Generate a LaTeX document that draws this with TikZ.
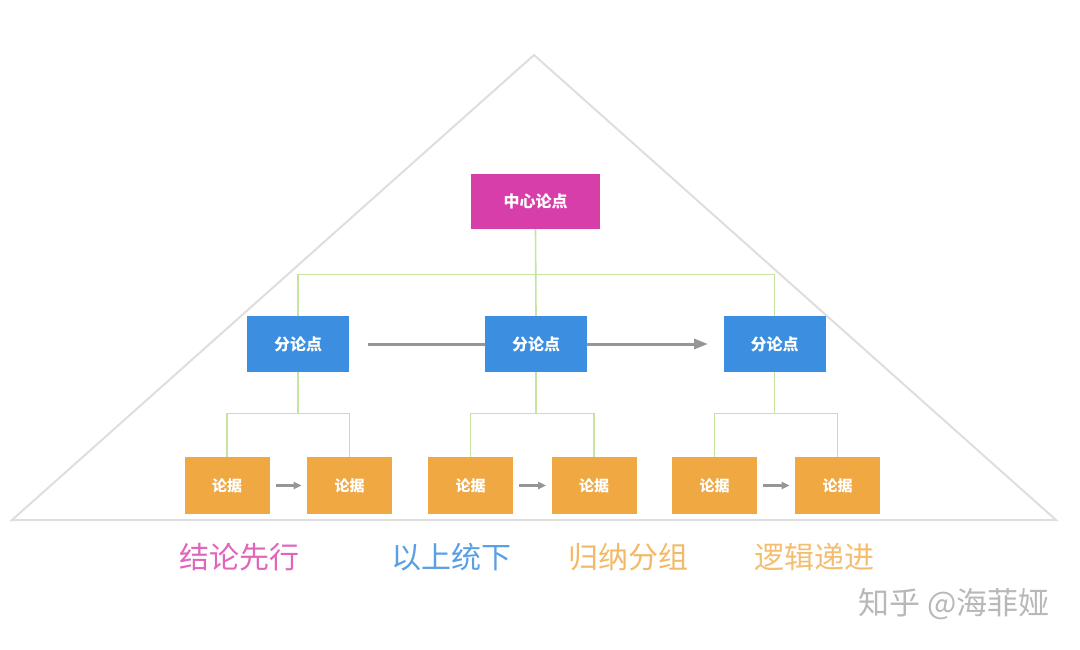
\documentclass[tikz,border=0pt]{standalone}
\usepackage{fontspec}
\usepackage{xcolor}
\usepackage{tikz}
\newfontfamily\cjk{Noto Sans CJK SC}
\usetikzlibrary{arrows.meta}
\definecolor{pusatmerah}{RGB}{216, 62, 170}
\definecolor{cabangbiru}{RGB}{60, 142, 224}
\definecolor{buktioranye}{RGB}{239, 168, 66}
\definecolor{garishijau}{RGB}{196, 228, 160}
\definecolor{segitiga}{RGB}{222, 222, 222}
\definecolor{abu}{RGB}{150, 150, 150}

\begin{document}
\begin{tikzpicture}[
    x=0.5pt, y=-0.5pt,
    font=\cjk,
    pusat/.style={fill=pusatmerah, inner sep=0pt, minimum width=64.5pt, minimum height=27.5pt,
                  text=white, font=\cjk\bfseries\fontsize{8}{9}\selectfont},
    cabang/.style={fill=cabangbiru, inner sep=0pt, minimum width=51pt, minimum height=28pt,
                   text=white, font=\cjk\bfseries\fontsize{8}{9}\selectfont},
    bukti/.style={fill=buktioranye, inner sep=0pt, minimum width=42.5pt, minimum height=28.5pt,
                  text=white, font=\cjk\bfseries\fontsize{7.5}{9}\selectfont},
    garis/.style={garishijau, line width=0.8pt},
    panah/.style={-{Triangle[length=7pt, width=5pt]}, abu, line width=1.5pt},
    panahkecil/.style={-{Triangle[length=4pt, width=3.5pt]}, abu, line width=1.2pt,
                       shorten <=3pt, shorten >=2.5pt},
    sebut/.style={font=\cjk\fontsize{15}{18}\selectfont}
  ]
    \useasboundingbox (0,0) rectangle (1080,649);
    % segitiga latar
    \draw[segitiga, line width=1pt, line join=miter] (534,55) -- (1056,520) -- (12,520) -- cycle;

    \node[pusat] (p) at (535.5,201.5) {中心论点};
    \node[cabang] (c1) at (298,344)   {分论点};
    \node[cabang] (c2) at (536,344)   {分论点};
    \node[cabang] (c3) at (774.5,344) {分论点};
    \node[bukti] (b1) at (227,485.5)   {论据};
    \node[bukti] (b2) at (349.5,485.5) {论据};
    \node[bukti] (b3) at (470.5,485.5) {论据};
    \node[bukti] (b4) at (594,485.5)   {论据};
    \node[bukti] (b5) at (714.5,485.5) {论据};
    \node[bukti] (b6) at (837.5,485.5) {论据};

    % garis pohon
    \draw[garis] (p.south) -- ++(0,45) -| (c1.north);
    \draw[garis] (p.south) -- ++(0,45) -| (c3.north);
    \draw[garis] (p.south) -- (c2.north);
    \foreach \c/\l/\r in {c1/b1/b2, c2/b3/b4, c3/b5/b6} {
      \draw[garis] (\c.south) -- ++(0,41) -| (\l.north);
      \draw[garis] (\c.south) -- ++(0,41) -| (\r.north);
    }

    % panah abu
    \coordinate (a0) at (368,344);
    \coordinate (a1) at (708,344);
    \draw[abu, line width=1.5pt] (a0) -- (c2.west);
    \draw[panah] (c2.east) -- (a1);
    \draw[panahkecil] (b1) -- (b2);
    \draw[panahkecil] (b3) -- (b4);
    \draw[panahkecil] (b5) -- (b6);

    % keterangan bawah
    \node[sebut, text=pusatmerah!80] (k1) at (239,557) {结论先行};
    \node[sebut, text=cabangbiru!85] (k2) at (451,557) {以上统下};
    \node[sebut, text=buktioranye!80] (k3) at (628,557) {归纳分组};
    \node[sebut, text=buktioranye!75] (k4) at (814,557) {逻辑递进};
    \node[font=\cjk\fontsize{15.5}{17}\selectfont, text=black!28] (wm) at (954,604) {知乎 @海菲娅};
  \end{tikzpicture}
\end{document}
